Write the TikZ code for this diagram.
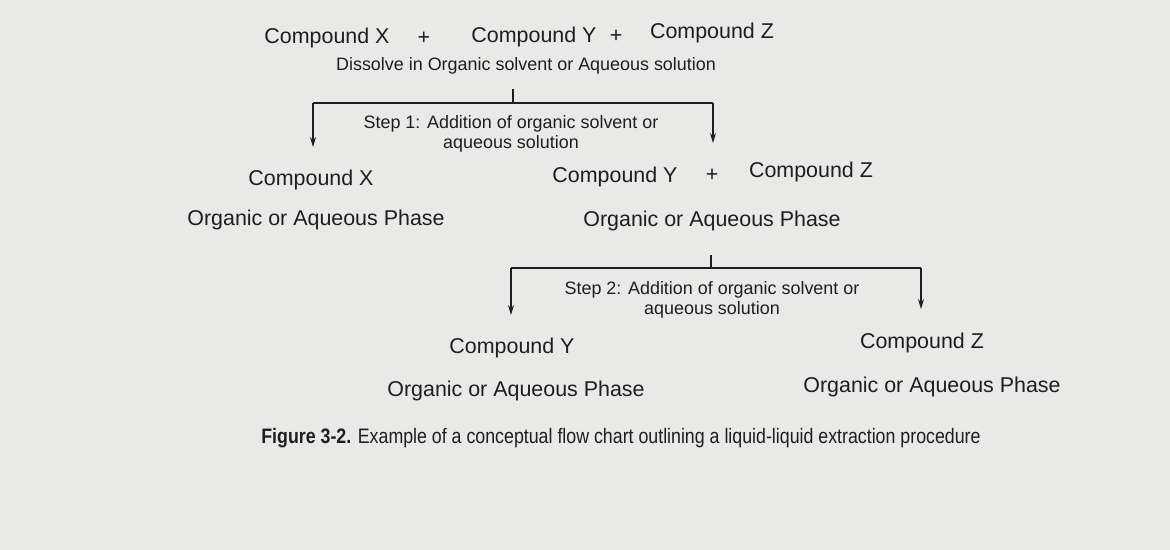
\documentclass[tikz,border=0pt]{standalone}
\usepackage{fontspec}
\setmainfont{Liberation Sans}
\usetikzlibrary{arrows.meta}
\definecolor{bg}{HTML}{E9E9E8}
\definecolor{ink}{HTML}{1E1E22}
\begin{document}
\begin{tikzpicture}[x=1bp,y=-1bp,
  big/.style={text=ink,font=\fontsize{21.5}{25}\selectfont,inner sep=0pt},
  small/.style={text=ink,font=\fontsize{18}{20}\selectfont,inner sep=0pt,align=center},
  ln/.style={draw=ink,line width=1.1pt},
  arr/.style={ln,-{Stealth[length=10pt,width=6pt]}}]
\fill[bg] (0,0) rectangle (1170,550);
\useasboundingbox (0,0) rectangle (1170,550);
\node[big] (cx) at (327,38) {Compound X};
\node[big] (p1) at (424,38) {+};
\node[big] (cy) at (534,37) {Compound Y};
\node[big] (p2) at (616,36) {+};
\node[big] (cz) at (712,33) {Compound Z};
\node[small] (dis) at (526,66) {Dissolve in Organic solvent or Aqueous solution};
\coordinate (t1a) at (513,89); \coordinate (t1b) at (513,103);
\coordinate (l1) at (313,103); \coordinate (r1) at (713,103);
\coordinate (l1e) at (313,147); \coordinate (r1e) at (713,143);
\draw[ln] (t1a) -- (t1b);
\draw[ln] (l1) -- (r1);
\draw[arr] (l1) -- (l1e);
\draw[arr] (r1) -- (r1e);
\node[small] (s1) at (511,134) {Step 1: Addition of organic solvent or\\aqueous solution};
\node[big] (cx2) at (311,180) {Compound X};
\node[big] (ox2) at (316,220) {Organic or Aqueous Phase};
\node[big] (cy2) at (615,177) {Compound Y};
\node[big] (p3) at (712,175) {+};
\node[big] (cz2) at (811,172) {Compound Z};
\node[big] (oy2) at (712,221) {Organic or Aqueous Phase};
\coordinate (t2a) at (711,255); \coordinate (t2b) at (711,268);
\coordinate (l2) at (511,268); \coordinate (r2) at (921,268);
\coordinate (l2e) at (511,315); \coordinate (r2e) at (921,309);
\draw[ln] (t2a) -- (t2b);
\draw[ln] (l2) -- (r2);
\draw[arr] (l2) -- (l2e);
\draw[arr] (r2) -- (r2e);
\node[small] (s2) at (712,300) {Step 2: Addition of organic solvent or\\aqueous solution};
\node[big] (cy3) at (512,348) {Compound Y};
\node[big] (oy3) at (516,391) {Organic or Aqueous Phase};
\node[big] (cz3) at (922,343) {Compound Z};
\node[big] (oz3) at (932,387) {Organic or Aqueous Phase};
\node[text=ink,inner sep=0pt] (cap) at (621,438) {\fontsize{21}{24}\selectfont\addfontfeature{FakeStretch=0.85}\textbf{Figure 3-2.} Example of a conceptual flow chart outlining a liquid-liquid extraction procedure};
\end{tikzpicture}
\end{document}
